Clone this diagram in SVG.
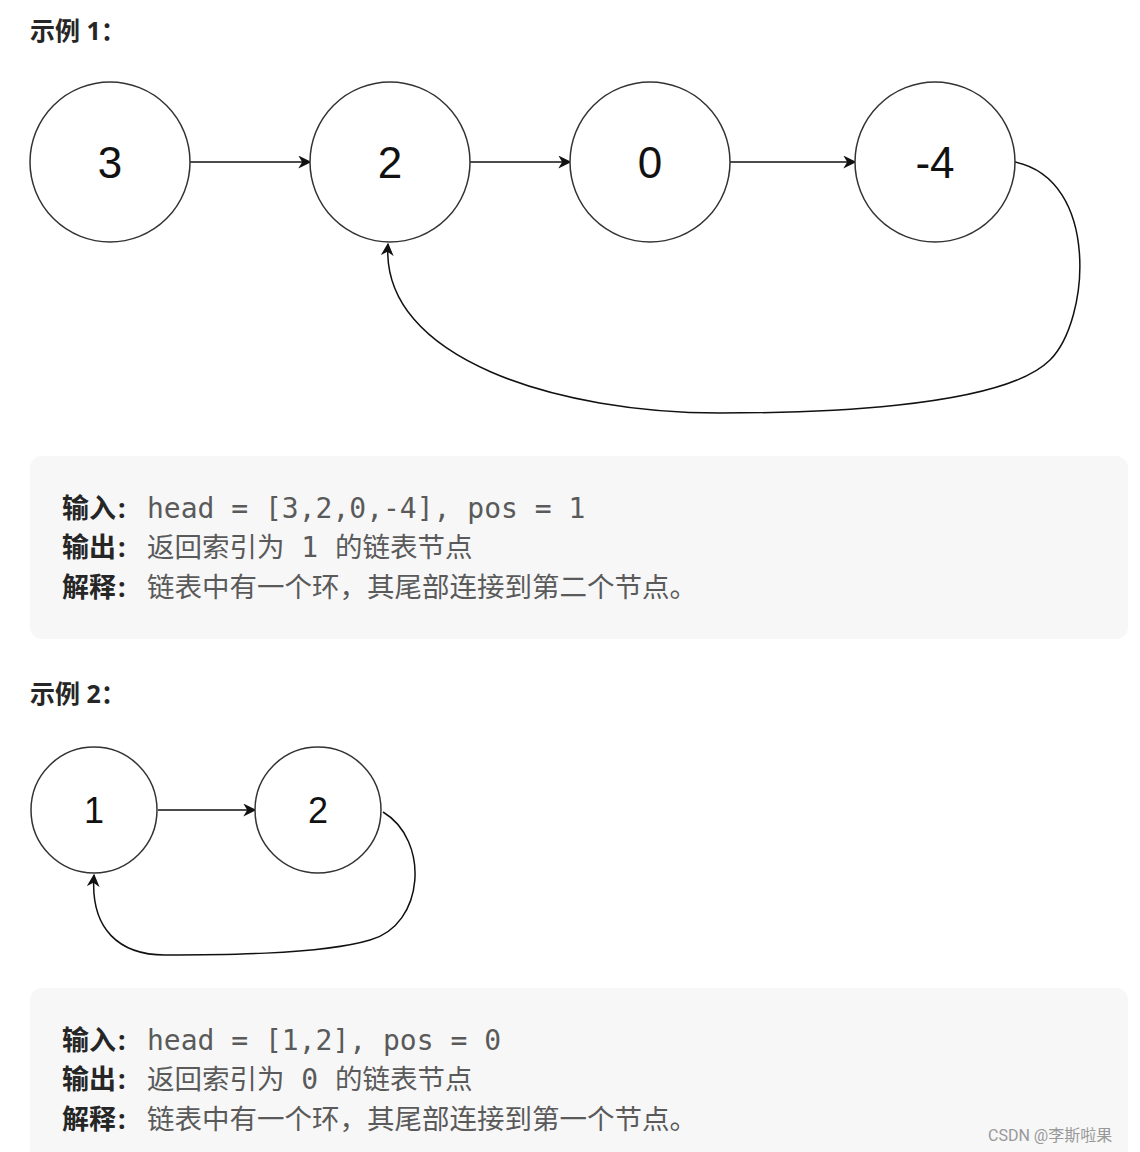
<svg xmlns="http://www.w3.org/2000/svg" width="1140" height="1152" viewBox="0 0 1140 1152">
<style>
.n{fill:#fff;stroke:#333;stroke-width:1.5}
.nt{font-family:"Liberation Sans",Arial,sans-serif;font-size:44px;fill:#111;text-anchor:middle}
.nt2{font-family:"Liberation Sans",Arial,sans-serif;font-size:36px;fill:#111;text-anchor:middle}
.e{fill:none;stroke:#111;stroke-width:1.5}
.h{font-family:"Noto Sans","Noto Sans CJK SC",sans-serif;font-weight:bold;font-size:25px;fill:#262626}
.b{font-family:"Noto Sans","Noto Sans CJK SC",sans-serif;font-weight:bold;font-size:27px;fill:#262626}
.t{font-family:"Noto Sans","Noto Sans CJK SC",sans-serif;font-size:27.5px;fill:#5a5a5a}
.m{font-family:"DejaVu Sans Mono",monospace;font-size:28px;fill:#5a5a5a}
</style>
<defs><marker id="a" viewBox="0 0 10 10" refX="9" refY="5" markerWidth="13" markerHeight="13" orient="auto" markerUnits="userSpaceOnUse"><path d="M0,0 L10,5 L0,10 L3,5 Z" fill="#111"/></marker></defs>
<rect width="1140" height="1152" fill="#fff"/>
<text class="h" x="30" y="40">示例 1：</text>
<g id="connectors">
<path class="e" d="M190,162 H310" marker-end="url(#a)"/>
<path class="e" d="M470,162 H570" marker-end="url(#a)"/>
<path class="e" d="M730,162 H855" marker-end="url(#a)"/>
<path class="e" d="M1015,162 C1100,180 1090,320 1050,360 C1000,410 800,413 720,413 C560,413 380,360 388,244" marker-end="url(#a)"/>
<path class="e" d="M158,810 H255" marker-end="url(#a)"/>
<path class="e" d="M383,812 C430,840 425,925 370,940 C320,955 210,955 165,955 C120,955 90,930 94,875" marker-end="url(#a)"/>
</g>
<g id="n3"><circle class="n" cx="110" cy="162" r="80"/><text class="nt" x="110" y="178">3</text></g>
<g id="n2"><circle class="n" cx="390" cy="162" r="80"/><text class="nt" x="390" y="178">2</text></g>
<g id="n0"><circle class="n" cx="650" cy="162" r="80"/><text class="nt" x="650" y="178">0</text></g>
<g id="n4"><circle class="n" cx="935" cy="162" r="80"/><text class="nt" x="935" y="178">-4</text></g>
<rect x="30" y="456" width="1098" height="183" rx="12" fill="#f7f7f8"/>
<text x="62" y="518"><tspan class="b">输入</tspan><tspan class="b" x="118">:</tspan><tspan class="m" x="147">head = [3,2,0,-4], pos = 1</tspan></text>
<text x="62" y="557"><tspan class="b">输出</tspan><tspan class="b" x="118">:</tspan><tspan class="t" x="147">返回索引为</tspan><tspan class="m"> 1 </tspan><tspan class="t">的链表节点</tspan></text>
<text x="62" y="597"><tspan class="b">解释</tspan><tspan class="b" x="118">:</tspan><tspan class="t" x="147">链表中有一个环，其尾部连接到第二个节点。</tspan></text>
<text class="h" x="30" y="703">示例 2：</text>
<g id="m1"><circle class="n" cx="94" cy="810" r="63"/><text class="nt2" x="94" y="823">1</text></g>
<g id="m2"><circle class="n" cx="318" cy="810" r="63"/><text class="nt2" x="318" y="823">2</text></g>
<rect x="30" y="988" width="1098" height="180" rx="12" fill="#f7f7f8"/>
<text x="62" y="1050"><tspan class="b">输入</tspan><tspan class="b" x="118">:</tspan><tspan class="m" x="147">head = [1,2], pos = 0</tspan></text>
<text x="62" y="1089"><tspan class="b">输出</tspan><tspan class="b" x="118">:</tspan><tspan class="t" x="147">返回索引为</tspan><tspan class="m"> 0 </tspan><tspan class="t">的链表节点</tspan></text>
<text x="62" y="1129"><tspan class="b">解释</tspan><tspan class="b" x="118">:</tspan><tspan class="t" x="147">链表中有一个环，其尾部连接到第一个节点。</tspan></text>
<text x="988" y="1141" font-family="Roboto,'Noto Sans CJK SC',sans-serif" font-size="16" fill="#999">CSDN @李斯啦果</text>
</svg>
